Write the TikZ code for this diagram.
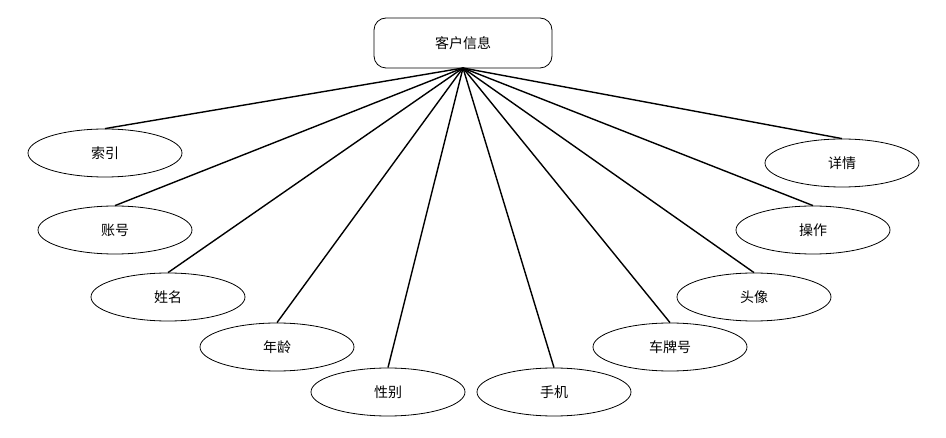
\documentclass[tikz,border=0pt]{standalone}
\usepackage{fontspec}
\newfontfamily\cjk{Noto Sans CJK SC}
\usetikzlibrary{shapes.geometric}
\begin{document}
\begin{tikzpicture}[x=1pt,y=-1pt,
  attr/.style={ellipse,draw,thick,minimum width=154pt,minimum height=48pt,font=\cjk\fontsize{14}{16}\selectfont},
  link/.style={line width=1.4pt}]
\useasboundingbox (0,0) rectangle (946,438);
\node[draw,thick,rounded corners=12pt,minimum width=178pt,minimum height=50pt,font=\cjk\fontsize{14}{16}\selectfont] (root) at (463,43) {客户信息};
\coordinate (hub) at (463,68);
\node[attr] (a1) at (105,153) {索引};
\node[attr] (a2) at (115,230) {账号};
\node[attr] (a3) at (168,297) {姓名};
\node[attr] (a4) at (277,347) {年龄};
\node[attr] (a5) at (388,392) {性别};
\node[attr] (a6) at (554,392) {手机};
\node[attr] (a7) at (670,347) {车牌号};
\node[attr] (a8) at (754,297) {头像};
\node[attr] (a9) at (813,230) {操作};
\node[attr] (a10) at (842,163) {详情};
\foreach \n in {a1,a2,a3,a4,a5,a6,a7,a8,a9,a10}
  \draw[link] (hub) -- (\n.north);
\end{tikzpicture}
\end{document}
